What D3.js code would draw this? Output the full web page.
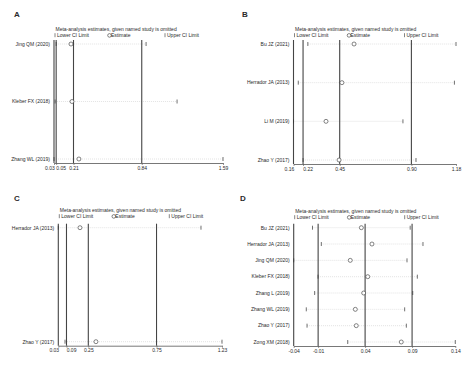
<!DOCTYPE html>
<html>
<head>
<meta charset="utf-8">
<script src="https://d3js.org/d3.v7.min.js"></script>
<style>
  body { margin: 0; background: #fff; }
  text { font-family: "Liberation Sans", Arial, sans-serif; fill: #2a2a2a; }
</style>
</head>
<body>
<script>
// panel A
var studiesA = ["Jing QM (2020)", "Kleber FX (2018)", "Zhang WL (2019)"];
var lowerA = [0.05, 0.04, 0.03];
var estA = [0.187, 0.196, 0.26];
var upperA = [0.88, 1.166, 1.59];
var ticksA = [0.03, 0.05, 0.21, 0.84, 1.59];
var tickLabelsA = ["0.03", "0.05", "0.21", "0.84", "1.59"];

// panel B
var studiesB = ["Bu JZ (2021)", "Herrador JA (2013)", "Li M (2019)", "Zhao Y (2017)"];
var lowerB = [0.25, 0.19, 0.16, 0.22];
var estB = [0.54, 0.464, 0.364, 0.446];
var upperB = [1.18, 1.17, 0.847, 0.929];
var ticksB = [0.16, 0.22, 0.45, 0.90, 1.18];
var tickLabelsB = ["0.16", "0.22", "0.45", "0.90", "1.18"];

// panel C
var studiesC = ["Herrador JA (2013)", "Zhao Y (2017)"];
var lowerC = [0.03, 0.079];
var estC = [0.189, 0.306];
var upperC = [1.076, 1.23];
var ticksC = [0.03, 0.09, 0.25, 0.75, 1.23];
var tickLabelsC = ["0.03", "0.09", "0.25", "0.75", "1.23"];

// panel D
var studiesD = ["Bu JZ (2021)", "Herrador JA (2013)", "Jing QM (2020)", "Kleber FX (2018)",
    "Zhang L (2019)", "Zhang WL (2019)", "Zhao Y (2017)", "Zong XM (2018)"];
var lowerD = [-0.016, -0.0066, -0.036, -0.0101, -0.0137, -0.0226, -0.0218, 0.0215];
var estD = [0.036, 0.0473, 0.0242, 0.0428, 0.0385, 0.0296, 0.0306, 0.0785];
var upperD = [0.088, 0.1016, 0.0846, 0.0956, 0.0907, 0.0821, 0.0839, 0.136];
var ticksD = [-0.036, -0.01, 0.04, 0.09, 0.136];
var tickLabelsD = ["-0.04", "-0.01", "0.04", "0.09", "0.14"];

var svg = d3.select("body").append("svg")
    .attr("width", 474)
    .attr("height", 369);

var panels = [
  {letter: "A", ox: 0, oy: 0, letterX: 14, letterY: 17, left: 54, right: 223, top: 44, bottom: 159, titleY: 31,
   studies: studiesA, lower: lowerA, est: estA, upper: upperA, ticks: ticksA, tickLabels: tickLabelsA},
  {letter: "B", ox: 237, oy: 0, letterX: 5, letterY: 17, left: 56.5, right: 219, top: 44, bottom: 160, titleY: 31,
   studies: studiesB, lower: lowerB, est: estB, upper: upperB, ticks: ticksB, tickLabels: tickLabelsB},
  {letter: "C", ox: 0, oy: 185, letterX: 14, letterY: 16, left: 58.3, right: 222, top: 42.7, bottom: 156.7, titleY: 27,
   studies: studiesC, lower: lowerC, est: estC, upper: upperC, ticks: ticksC, tickLabels: tickLabelsC},
  {letter: "D", ox: 237, oy: 185, letterX: 3, letterY: 16, left: 56.7, right: 218.3, top: 42.7, bottom: 157, titleY: 28,
   studies: studiesD, lower: lowerD, est: estD, upper: upperD, ticks: ticksD, tickLabels: tickLabelsD}
];

panels.forEach(drawPanel);

function drawPanel(p) {
  var g = svg.append("g")
      .attr("transform", "translate(" + p.ox + "," + p.oy + ")");

  var x = d3.scaleLinear()
      .domain([p.ticks[0], p.ticks[p.ticks.length - 1]])
      .range([p.left, p.right]);

  var y = d3.scalePoint()
      .domain(p.studies)
      .range([p.top, p.bottom]);

  var axisY = p.bottom + 4;
  var lineTop = p.top - 4;

  g.append("text")
      .attr("x", p.letterX)
      .attr("y", p.letterY)
      .attr("font-size", "8px")
      .attr("font-weight", "bold")
      .text(p.letter);

  // title + legend
  g.append("text")
      .attr("x", p.left + 1.5)
      .attr("y", p.titleY)
      .attr("font-size", "5px")
      .text("Meta-analysis estimates, given named study is omitted");

  var leg = g.append("g")
      .attr("transform", "translate(" + p.left + "," + (p.titleY + 6) + ")");
  leg.append("line")
      .attr("x1", 1).attr("x2", 1).attr("y1", -3.8).attr("y2", 0.2)
      .attr("stroke", "#333").attr("stroke-width", 0.6);
  leg.append("text").attr("x", 3).attr("font-size", "5px").text("Lower CI Limit");
  leg.append("circle")
      .attr("cx", 55.5).attr("cy", -1.6).attr("r", 1.8)
      .attr("fill", "none").attr("stroke", "#333").attr("stroke-width", 0.6);
  leg.append("text").attr("x", 57).attr("font-size", "5px").text("Estimate");
  leg.append("line")
      .attr("x1", 111).attr("x2", 111).attr("y1", -3.8).attr("y2", 0.2)
      .attr("stroke", "#333").attr("stroke-width", 0.6);
  leg.append("text").attr("x", 113).attr("font-size", "5px").text("Upper CI Limit");

  // dotted row lines
  g.selectAll(".row")
    .data(p.studies)
    .enter().append("line")
      .attr("class", "row")
      .attr("x1", function(d, i) { return x(p.lower[i]); })
      .attr("x2", function(d, i) { return x(p.upper[i]); })
      .attr("y1", function(d) { return y(d); })
      .attr("y2", function(d) { return y(d); })
      .attr("stroke", "#d0d0d0")
      .attr("stroke-width", 0.6)
      .attr("stroke-dasharray", "1,1");

  // reference lines: overall lower CI, estimate, upper CI
  g.selectAll(".ref")
    .data(p.ticks.slice(1, 4))
    .enter().append("line")
      .attr("class", "ref")
      .attr("x1", function(d) { return x(d); })
      .attr("x2", function(d) { return x(d); })
      .attr("y1", lineTop)
      .attr("y2", axisY)
      .attr("stroke", "#444")
      .attr("stroke-width", 1.1);

  // left axis line
  g.append("line")
      .attr("x1", p.left).attr("x2", p.left)
      .attr("y1", lineTop).attr("y2", axisY)
      .attr("stroke", "#444")
      .attr("stroke-width", 1.1);

  // bottom axis
  var ax = g.append("g")
      .attr("transform", "translate(0," + axisY + ")")
      .call(d3.axisBottom(x)
        .tickValues(p.ticks)
        .tickFormat(function(d, i) { return p.tickLabels[i]; })
        .tickSize(2)
        .tickSizeOuter(0)
        .tickPadding(1));
  ax.select(".domain").attr("stroke", "#555").attr("stroke-width", 0.8);
  ax.selectAll(".tick line").attr("stroke", "#555").attr("stroke-width", 0.6);
  ax.selectAll("text")
      .attr("font-size", "5px")
      .attr("font-family", "Liberation Sans, Arial, sans-serif")
      .attr("fill", "#2a2a2a");

  // the two leftmost labels sit close together: push them apart
  if (x(p.ticks[1]) - x(p.ticks[0]) < 12) {
    ax.selectAll(".tick text")
        .filter(function(d, i) { return i === 0; })
        .attr("text-anchor", "end")
        .attr("x", 0.3);
    ax.selectAll(".tick text")
        .filter(function(d, i) { return i === 1; })
        .attr("text-anchor", "start")
        .attr("x", -0.3);
  }

  // study labels
  g.selectAll(".lab")
    .data(p.studies)
    .enter().append("text")
      .attr("class", "lab")
      .attr("x", p.left - 4)
      .attr("y", function(d) { return y(d) + 1.8; })
      .attr("text-anchor", "end")
      .attr("font-size", "5px")
      .text(function(d) { return d; });

  // lower and upper limit marks
  ["lower", "upper"].forEach(function(k) {
    g.selectAll("." + k)
      .data(p.studies)
      .enter().append("line")
        .attr("class", k)
        .attr("x1", function(d, i) { return x(p[k][i]); })
        .attr("x2", function(d, i) { return x(p[k][i]); })
        .attr("y1", function(d) { return y(d) - 2; })
        .attr("y2", function(d) { return y(d) + 2; })
        .attr("stroke", "#333")
        .attr("stroke-width", 0.7);
  });

  // estimates
  g.selectAll(".est")
    .data(p.studies)
    .enter().append("circle")
      .attr("class", "est")
      .attr("cx", function(d, i) { return x(p.est[i]); })
      .attr("cy", function(d) { return y(d); })
      .attr("r", 2)
      .attr("fill", "#fff")
      .attr("stroke", "#333")
      .attr("stroke-width", 0.6);
}
</script>
</body>
</html>
